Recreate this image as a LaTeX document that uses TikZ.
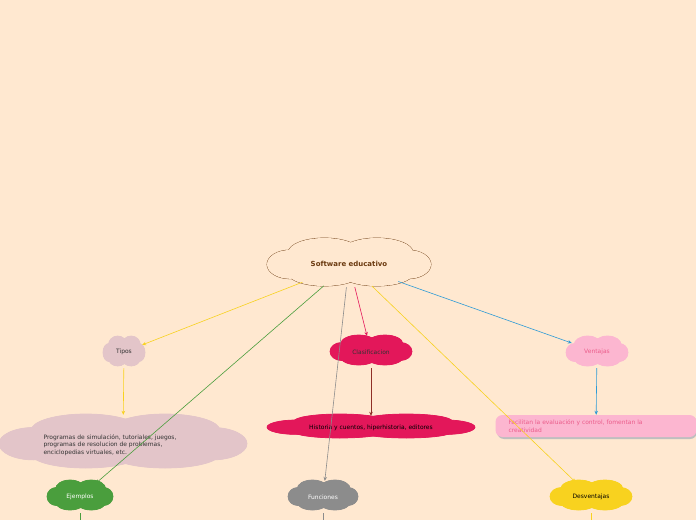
\documentclass[tikz,border=0pt]{standalone}
\usepackage{fontspec}
\setmainfont{DejaVu Sans}
\usetikzlibrary{shapes.geometric,arrows.meta}
\definecolor{bg}{HTML}{FFE8D0}
\definecolor{tipc}{HTML}{E3C5C9}
\definecolor{crim}{HTML}{E3175A}
\definecolor{pinkc}{HTML}{FCB6D0}
\definecolor{grn}{HTML}{4A9E3D}
\definecolor{gry}{HTML}{8C8C8C}
\definecolor{yel}{HTML}{F8D21F}
\definecolor{brn}{HTML}{6B3A10}
\definecolor{blu}{HTML}{2E9BD6}
\newcommand\puffs[1]{%
 \path[#1] (-0.36,0.05) ellipse [x radius=0.14,y radius=0.3];
 \path[#1] (0.36,0.05) ellipse [x radius=0.14,y radius=0.3];
 \path[#1] (-0.15,-0.2) ellipse [x radius=0.22,y radius=0.3];
 \path[#1] (0.17,-0.2) ellipse [x radius=0.22,y radius=0.3];
 \path[#1] (-0.15,0.24) ellipse [x radius=0.22,y radius=0.26];
 \path[#1] (0.17,0.24) ellipse [x radius=0.22,y radius=0.26];
 \path[#1] (0,0.02) ellipse [x radius=0.4,y radius=0.34];}
\newcommand\mycloud[5]{%
 \begin{scope}[shift={#1},xscale=#2,yscale=#3]
 \puffs{fill=#4,draw=#5,line width=0.7pt}\puffs{fill=#4}
 \end{scope}}
\tikzset{
 x=1bp,y=-1bp,
 cl/.style={ellipse,inner sep=0pt,font=\fontsize{6}{7.5}\selectfont,align=left},
 ln/.style={line width=0.6pt,-{Stealth[length=4pt,width=3.5pt]}},
 pl/.style={line width=0.6pt}
}
\begin{document}
\begin{tikzpicture}
\useasboundingbox[fill=bg] (0,0) rectangle (696,520);
\mycloud{(349,262)}{164}{48}{bg}{brn}
\node[cl,minimum width=150bp,minimum height=46bp,text=brn,font=\bfseries\fontsize{7}{8}\selectfont] (root) at (349,264) {Software educativo};
\mycloud{(124,351)}{42}{30}{tipc}{tipc}
\node[cl,minimum width=40bp,minimum height=32bp,text=black!80] (tipos) at (124,352) {Tipos};
\mycloud{(371,350)}{82}{30}{crim}{crim}
\node[cl,minimum width=76bp,minimum height=32bp,text=black!80] (clas) at (371,352) {Clasificacion};
\mycloud{(597,351)}{62}{30}{pinkc}{pinkc}
\node[cl,minimum width=60bp,minimum height=32bp,text=crim!70] (vent) at (597,352) {Ventajas};
\mycloud{(123,441)}{248}{54}{tipc}{tipc}
\node[cl,minimum width=240bp,minimum height=52bp] (ejc) at (123,441) {};
\node[anchor=west,align=left,font=\fontsize{6}{7.5}\selectfont,text=black!80] (ejt) at (40,445) {Programas de simulación, tutoriales, juegos,\\programas de resolucion de problemas,\\enciclopedias virtuales, etc.};
\mycloud{(371,426)}{208}{24}{crim}{crim}
\node[cl,minimum width=200bp,minimum height=24bp,text=black] (hist) at (371,428) {Historia y cuentos, hiperhistoria, editores};
\fill[black!25,rounded corners=7bp] (497,416) rectangle (697,439);
\node[fill=pinkc,rounded corners=7bp,minimum width=201bp,minimum height=22bp,inner sep=0pt] (fac) at (596,426) {};
\node[anchor=west,align=left,font=\fontsize{6}{7.5}\selectfont,text=crim!70] (fact) at (505,426) {Facilitan la evaluación y control, fomentan la\\creatividad};
\mycloud{(80,495)}{66}{30}{grn}{grn}
\node[cl,minimum width=62bp,minimum height=32bp,text=white] (ejem) at (80,497) {Ejemplos};
\mycloud{(323,495)}{70}{30}{gry}{gry}
\node[cl,minimum width=66bp,minimum height=32bp,text=white] (func) at (323,497) {Funciones};
\mycloud{(591,495)}{82}{30}{yel}{yel}
\node[cl,minimum width=78bp,minimum height=32bp,text=black] (desv) at (591,497) {Desventajas};
\coordinate (e1) at (80,520); \coordinate (f1) at (323,520); \coordinate (d1) at (591,520);
\draw[ln,yel] (root) -- (tipos);
\draw[ln,crim] (root) -- (clas);
\draw[ln,blu] (root) -- (vent);
\draw[ln,grn] (root) -- (ejem);
\draw[ln,gry] (root) -- (func);
\draw[ln,yel] (root) -- (desv);
\draw[ln,yel] (tipos) -- (ejc);
\draw[ln,brn!70!crim] (clas) -- (hist);
\draw[ln,blu] (vent) -- (fac);
\draw[pl,grn] (ejem) -- (e1);
\draw[pl,gry] (func) -- (f1);
\draw[pl,yel] (desv) -- (d1);
\end{tikzpicture}
\end{document}
